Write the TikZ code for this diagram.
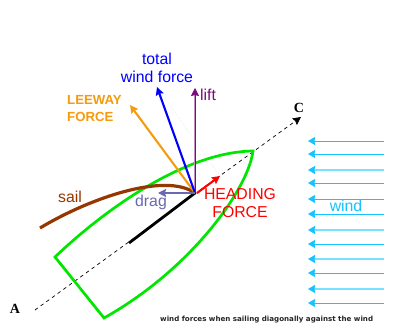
\documentclass[tikz,border=0pt]{standalone}
\usepackage{fontspec}
\setmainfont{Liberation Sans}
\newfontfamily\serifletters{Liberation Serif}
\newfontfamily\notefont{DejaVu Sans}
\usetikzlibrary{arrows.meta}
\definecolor{hull}{RGB}{0,230,0}
\definecolor{sailbrown}{RGB}{150,55,0}
\definecolor{leeway}{RGB}{245,155,15}
\definecolor{windblue}{RGB}{20,195,255}
\definecolor{windpale}{RGB}{120,225,255}
\definecolor{liftpurple}{RGB}{125,10,125}
\definecolor{dragslate}{RGB}{105,105,175}
\tikzset{
  x=1pt,y=-1pt,
  label text/.style={inner sep=0pt,align=center,font=\fontsize{15.8}{17.5}\selectfont},
  head/.style={-{Stealth[length=8pt,width=8pt,inset=1pt]}},
  force/.style={line width=2.1pt,head},
  windthin/.style={windblue,line width=0.9pt,-{Stealth[length=7pt,width=8pt,inset=0.5pt]}},
  windwide/.style={windpale,line width=2.1pt,-{Stealth[length=7pt,width=8pt,inset=0.5pt,color=windblue]}},
  keel/.style={black,line width=0.7pt,dash pattern=on 3.5pt off 3.5pt},
}
\begin{document}
\begin{tikzpicture}
\useasboundingbox (0,0) rectangle (395,336);
\fill[white] (0,0) rectangle (395,336);

% Key points of the boat and the sailing line
\coordinate (mast) at (195,193);
\coordinate (sternL) at (55,257);
\coordinate (sternR) at (104,318);
\coordinate (bow) at (253,151);
\coordinate (lineA) at (35,310);
\coordinate (lineC) at (301,117);
\coordinate (keelEnd) at (129,243);
\coordinate (sailEnd) at (40,228);
\coordinate (totalTip) at (157,87);
\coordinate (liftTip) at (195,88);
\coordinate (leewayTip) at (130,105);
\coordinate (dragTip) at (158,193);
\coordinate (headTip) at (220,176);

% Construction line of the force parallelogram
\draw[black!22,line width=0.4pt,dotted] (totalTip) -- (headTip);

% Sailing line from A to C
\draw[keel,head] (lineA) -- (lineC);

% Hull
\draw[hull,line width=2.7pt,line join=miter]
  (sternL) .. controls (100,214) and (182,152) .. (bow)
  .. controls (248,190) and (190,270) .. (sternR) -- cycle;

% Boom
\draw[black,line width=2.8pt] (keelEnd) -- (mast);

% Sail
\draw[sailbrown,line width=3.2pt] (sailEnd) .. controls (90,198) and (165,172) .. (mast);

% Forces acting at the mast
\draw[liftpurple!45,line width=2pt] (mast) -- (195,95);
\draw[liftpurple,line width=0.7pt,head] (mast) -- (liftTip);
\draw[force,leeway] (mast) -- (leewayTip);
\draw[force,blue] (mast) -- (totalTip);
\draw[dragslate,line width=1.4pt,head] (mast) -- (dragTip);
\draw[force,red] (197,193) -- (headTip);

% Wind arrows
\foreach \yy/\kind in {141/windthin,154/windthin,170/windwide,183/windthin,199/windthin,214/windthin,
                       230/windwide,244/windthin,259/windwide,273/windthin,289/windwide,303/windthin}
  \draw[\kind] (384,\yy) -- (308,\yy);

% Labels
\node[label text,text=blue] (totalLabel) at (157,68) {total\\wind force};
\node[label text,text=liftpurple,anchor=west] (liftLabel) at (200,95) {lift};
\node[label text,text=leeway,font=\fontsize{13.2}{17}\bfseries\selectfont,align=left,anchor=west] (leewayLabel) at (67,109) {LEEWAY\\FORCE};
\node[label text,text=sailbrown,anchor=west] (sailLabel) at (58,197) {sail};
\node[label text,text=dragslate,anchor=west] (dragLabel) at (135,202) {drag};
\node[label text,text=red] (headLabel) at (240,203) {HEADING\\FORCE};
\node[label text,text=windblue] (windLabel) at (346,206) {wind};
\node[inner sep=0pt,font=\serifletters\bfseries\fontsize{14}{14}\selectfont] (letterA) at (15,309) {A};
\node[inner sep=0pt,font=\serifletters\bfseries\fontsize{14}{14}\selectfont] (letterC) at (299,108) {C};
\node[inner sep=0pt,anchor=west,text=black!85,font=\notefont\bfseries\fontsize{7.1}{8}\selectfont] (note) at (160,320) {wind forces when sailing diagonally against the wind};
\end{tikzpicture}
\end{document}
